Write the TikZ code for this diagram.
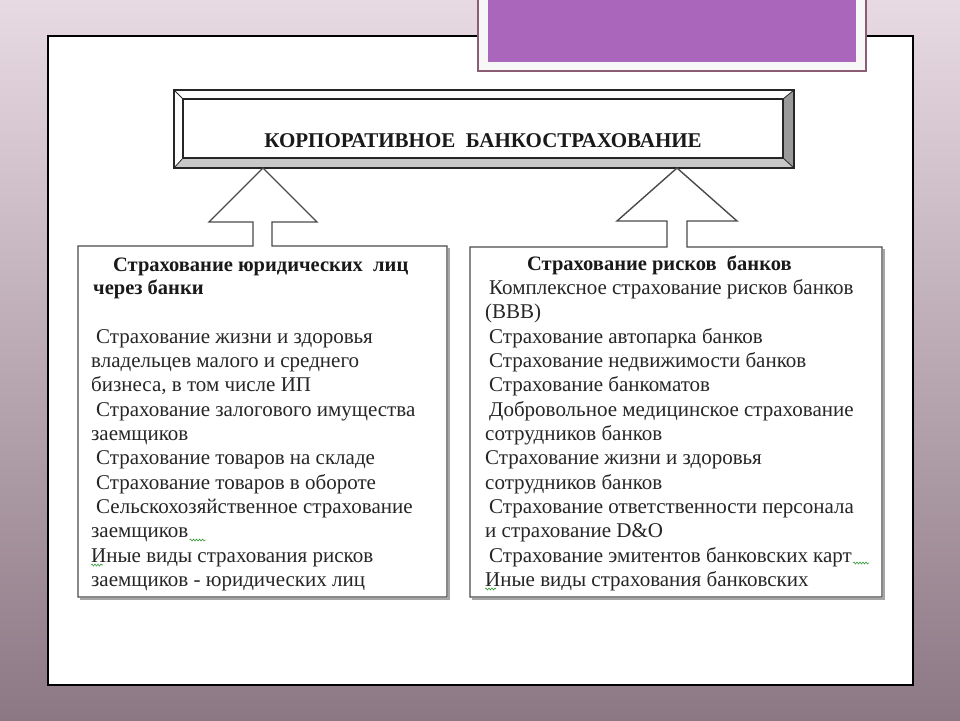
\documentclass[tikz,border=0pt]{standalone}
\usepackage{fontspec}
\setmainfont{Liberation Serif}
\usetikzlibrary{decorations.pathmorphing}
\definecolor{bgtop}{HTML}{E8DAE2}
\definecolor{bgbot}{HTML}{8C7884}
\definecolor{purp}{HTML}{AA66BB}
\definecolor{purpedge}{HTML}{8A5D74}
\definecolor{boxedge}{HTML}{4A4A4A}
\definecolor{bevelR}{HTML}{9A9A9A}
\definecolor{bevelB}{HTML}{C8C8C8}
\definecolor{spell}{HTML}{3A9A3A}
\tikzset{
  txt/.style={anchor=base west, inner sep=0pt, font=\fontsize{21}{24}\selectfont, text=black!85},
  hdr/.style={anchor=base west, inner sep=0pt, font=\fontsize{20.5}{24}\selectfont\bfseries, text=black!90},
  outline/.style={draw=boxedge, line width=1.4pt, fill=white, line join=miter},
  shadowline/.style={draw=black!35, line width=2.2pt},
  squig/.style={draw=spell, line width=0.6pt, decorate, decoration={snake, segment length=3pt, amplitude=1pt}},
}
\begin{document}
\begin{tikzpicture}[x=1pt,y=-1pt]
\useasboundingbox (0,0) rectangle (960,720);
% background
\shade[top color=bgtop, bottom color=bgbot] (0,0) rectangle (960,720);
% white panel
\draw[fill=white, draw=black, line width=1.2pt] (48,36) rectangle (913,685);
% purple title bar
\draw[fill=black!3, draw=purpedge, line width=1.6pt] (478,-3) rectangle (866,71);
\fill[purp] (488,-3) rectangle (856,62);
% title bevel box
\coordinate (to1) at (174,90); \coordinate (to2) at (794,90);
\coordinate (to3) at (794,168); \coordinate (to4) at (174,168);
\coordinate (ti1) at (183,99); \coordinate (ti2) at (783,99);
\coordinate (ti3) at (783,158); \coordinate (ti4) at (183,158);
\fill[white] (to1) -- (to2) -- (ti2) -- (ti1) -- cycle;
\fill[white] (to1) -- (ti1) -- (ti4) -- (to4) -- cycle;
\fill[bevelR] (to2) -- (to3) -- (ti3) -- (ti2) -- cycle;
\fill[bevelB] (to4) -- (ti4) -- (ti3) -- (to3) -- cycle;
\draw[black!85, line width=1.3pt] (to1) rectangle (to3);
\draw[black!85, line width=1.3pt] (ti1) rectangle (ti3);
\draw[black!85, line width=0.8pt] (to1) -- (ti1) (to2) -- (ti2) (to3) -- (ti3) (to4) -- (ti4);
\node[anchor=base, inner sep=0pt, font=\fontsize{21}{24}\selectfont\bfseries, text=black!90] (title) at (483,147) {КОРПОРАТИВНОЕ\ \ БАНКОСТРАХОВАНИЕ};
% left box with block arrow
\draw[shadowline] (80,599) -- (449,599) -- (449,248);
\draw[outline] (253,246) -- (253,222) -- (209,222) -- (263,168) -- (317,222) -- (272,222) -- (272,246)
  -- (447,246) -- (447,597) -- (78,597) -- (78,246) -- cycle;
% right box with block arrow
\draw[shadowline] (472,599) -- (884,599) -- (884,249);
\draw[outline] (667,247) -- (667,221) -- (617,221) -- (677,168) -- (737,221) -- (687,221) -- (687,247)
  -- (882,247) -- (882,597) -- (470,597) -- (470,247) -- cycle;
% left texts
\node[hdr] (lh1) at (113,271) {Страхование юридических\ \ лиц};
\node[hdr] (lh2) at (93,294) {через банки};
\node[txt] (l1) at (96,343) {Страхование жизни и здоровья};
\node[txt] (l2) at (91,367) {владельцев малого и среднего};
\node[txt] (l3) at (91,391) {бизнеса, в том числе ИП};
\node[txt] (l4) at (96,416) {Страхование залогового имущества};
\node[txt] (l5) at (91,440) {заемщиков};
\node[txt] (l6) at (96,464) {Страхование товаров на складе};
\node[txt] (l7) at (96,489) {Страхование товаров в обороте};
\node[txt] (l8) at (96,513) {Сельскохозяйственное страхование};
\node[txt] (l9) at (91,537) {заемщиков};
\node[txt] (l10) at (91,562) {Иные виды страхования рисков};
\node[txt] (l11) at (91,586) {заемщиков - юридических лиц};
% right texts
\node[hdr] (rh1) at (527,270) {Страхование рисков\ \ банков};
\node[txt] (r1) at (489,294) {Комплексное страхование рисков банков};
\node[txt] (r2) at (485,318) {(ВВВ)};
\node[txt] (r3) at (489,343) {Страхование автопарка банков};
\node[txt] (r4) at (489,367) {Страхование недвижимости банков};
\node[txt] (r5) at (489,391) {Страхование банкоматов};
\node[txt] (r6) at (489,416) {Добровольное медицинское страхование};
\node[txt] (r7) at (485,440) {сотрудников банков};
\node[txt] (r8) at (485,464) {Страхование жизни и здоровья};
\node[txt] (r9) at (485,489) {сотрудников банков};
\node[txt] (r10) at (489,513) {Страхование ответственности персонала};
\node[txt] (r11) at (485,537) {и страхование D\&O};
\node[txt] (r12) at (489,562) {Страхование эмитентов банковских карт};
\node[txt] (r13) at (485,586) {Иные виды страхования банковских};
% spell-check squiggles
\draw[squig] ([xshift=1pt,yshift=-3pt]l9.base east) -- ++(16,0);
\draw[squig] ([yshift=-3pt]l10.base west) -- ++(12,0);
\draw[squig] ([xshift=1pt,yshift=-1pt]r12.base east) -- ++(16,0);
\draw[squig] ([yshift=-3pt]r13.base west) -- ++(11,0);
\end{tikzpicture}
\end{document}
